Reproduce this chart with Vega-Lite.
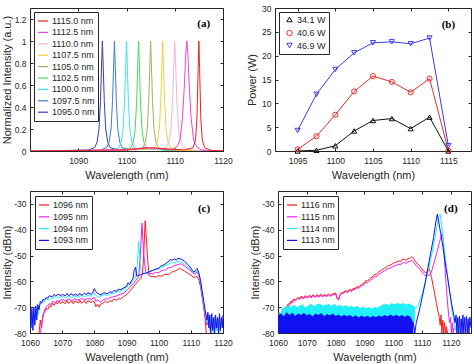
{
"$schema":"https://vega.github.io/schema/vega-lite/v6.json",
"background":"white",
"padding":{"left":0,"top":3,"right":0,"bottom":0},
"config":{
 "font":"Liberation Sans",
 "view":{"stroke":"#262626","strokeWidth":1},
 "axis":{"domain":false,"grid":false,"tickColor":"#262626","tickSize":-3,"labelFontSize":8.5,"labelColor":"#262626","titleFontSize":11,"titleFontWeight":"normal","titleColor":"#262626","labelOverlap":false,"labelFlush":false},
 "axisX":{"labelPadding":8,"titlePadding":3,"minExtent":15,"maxExtent":15},
 "axisY":{"labelPadding":7,"titlePadding":1,"minExtent":17,"maxExtent":17},
 "legend":{"title":null,"padding":3,"strokeColor":"#262626","fillColor":"white","labelFontSize":9,"labelColor":"#262626","labelOffset":3,"labelLimit":200,"cornerRadius":0}
},
"datasets":{
"a":[
{"s":"1095.0 nm","w":1080,"v":0},{"s":"1095.0 nm","w":1092,"v":0.008},{"s":"1095.0 nm","w":1093.4,"v":0.03},{"s":"1095.0 nm","w":1093.9,"v":0.08},{"s":"1095.0 nm","w":1094.3,"v":0.2},{"s":"1095.0 nm","w":1094.6,"v":0.45},{"s":"1095.0 nm","w":1094.85,"v":0.8},{"s":"1095.0 nm","w":1095,"v":1},{"s":"1095.0 nm","w":1095.15,"v":0.8},{"s":"1095.0 nm","w":1095.4,"v":0.45},{"s":"1095.0 nm","w":1095.7,"v":0.2},{"s":"1095.0 nm","w":1096.1,"v":0.08},{"s":"1095.0 nm","w":1096.6,"v":0.03},{"s":"1095.0 nm","w":1098,"v":0.012},{"s":"1095.0 nm","w":1101,"v":0.02},{"s":"1095.0 nm","w":1104,"v":0.025},{"s":"1095.0 nm","w":1107,"v":0.015},{"s":"1095.0 nm","w":1110,"v":0.004},{"s":"1095.0 nm","w":1120,"v":0},
{"s":"1097.5 nm","w":1080,"v":0},{"s":"1097.5 nm","w":1094.5,"v":0.008},{"s":"1097.5 nm","w":1095.9,"v":0.03},{"s":"1097.5 nm","w":1096.4,"v":0.08},{"s":"1097.5 nm","w":1096.8,"v":0.2},{"s":"1097.5 nm","w":1097.1,"v":0.45},{"s":"1097.5 nm","w":1097.35,"v":0.8},{"s":"1097.5 nm","w":1097.5,"v":1},{"s":"1097.5 nm","w":1097.65,"v":0.8},{"s":"1097.5 nm","w":1097.9,"v":0.45},{"s":"1097.5 nm","w":1098.2,"v":0.2},{"s":"1097.5 nm","w":1098.6,"v":0.08},{"s":"1097.5 nm","w":1099.1,"v":0.03},{"s":"1097.5 nm","w":1100.5,"v":0.015},{"s":"1097.5 nm","w":1103,"v":0.02},{"s":"1097.5 nm","w":1106,"v":0.02},{"s":"1097.5 nm","w":1109,"v":0.005},{"s":"1097.5 nm","w":1120,"v":0},
{"s":"1100.0 nm","w":1080,"v":0},{"s":"1100.0 nm","w":1095,"v":0.003},{"s":"1100.0 nm","w":1097,"v":0.008},{"s":"1100.0 nm","w":1098.4,"v":0.03},{"s":"1100.0 nm","w":1098.9,"v":0.08},{"s":"1100.0 nm","w":1099.3,"v":0.2},{"s":"1100.0 nm","w":1099.6,"v":0.45},{"s":"1100.0 nm","w":1099.85,"v":0.8},{"s":"1100.0 nm","w":1100,"v":1},{"s":"1100.0 nm","w":1100.15,"v":0.8},{"s":"1100.0 nm","w":1100.4,"v":0.45},{"s":"1100.0 nm","w":1100.7,"v":0.2},{"s":"1100.0 nm","w":1101.1,"v":0.08},{"s":"1100.0 nm","w":1101.6,"v":0.03},{"s":"1100.0 nm","w":1103,"v":0.015},{"s":"1100.0 nm","w":1106,"v":0.02},{"s":"1100.0 nm","w":1109,"v":0.005},{"s":"1100.0 nm","w":1120,"v":0},
{"s":"1102.5 nm","w":1080,"v":0},{"s":"1102.5 nm","w":1097,"v":0.005},{"s":"1102.5 nm","w":1099.5,"v":0.01},{"s":"1102.5 nm","w":1100.9,"v":0.03},{"s":"1102.5 nm","w":1101.4,"v":0.08},{"s":"1102.5 nm","w":1101.8,"v":0.2},{"s":"1102.5 nm","w":1102.1,"v":0.45},{"s":"1102.5 nm","w":1102.35,"v":0.8},{"s":"1102.5 nm","w":1102.5,"v":1},{"s":"1102.5 nm","w":1102.65,"v":0.8},{"s":"1102.5 nm","w":1102.9,"v":0.45},{"s":"1102.5 nm","w":1103.2,"v":0.2},{"s":"1102.5 nm","w":1103.6,"v":0.08},{"s":"1102.5 nm","w":1104.1,"v":0.03},{"s":"1102.5 nm","w":1105.5,"v":0.015},{"s":"1102.5 nm","w":1108,"v":0.008},{"s":"1102.5 nm","w":1120,"v":0},
{"s":"1105.0 nm","w":1080,"v":0},{"s":"1105.0 nm","w":1098,"v":0.005},{"s":"1105.0 nm","w":1100,"v":0.012},{"s":"1105.0 nm","w":1102,"v":0.01},{"s":"1105.0 nm","w":1103.4,"v":0.03},{"s":"1105.0 nm","w":1103.9,"v":0.08},{"s":"1105.0 nm","w":1104.3,"v":0.2},{"s":"1105.0 nm","w":1104.6,"v":0.45},{"s":"1105.0 nm","w":1104.85,"v":0.8},{"s":"1105.0 nm","w":1105,"v":1},{"s":"1105.0 nm","w":1105.15,"v":0.8},{"s":"1105.0 nm","w":1105.4,"v":0.45},{"s":"1105.0 nm","w":1105.7,"v":0.2},{"s":"1105.0 nm","w":1106.1,"v":0.08},{"s":"1105.0 nm","w":1106.6,"v":0.03},{"s":"1105.0 nm","w":1108,"v":0.012},{"s":"1105.0 nm","w":1111,"v":0.004},{"s":"1105.0 nm","w":1120,"v":0},
{"s":"1107.5 nm","w":1080,"v":0},{"s":"1107.5 nm","w":1098,"v":0.005},{"s":"1107.5 nm","w":1101,"v":0.02},{"s":"1107.5 nm","w":1104.5,"v":0.015},{"s":"1107.5 nm","w":1105.9,"v":0.03},{"s":"1107.5 nm","w":1106.4,"v":0.08},{"s":"1107.5 nm","w":1106.8,"v":0.2},{"s":"1107.5 nm","w":1107.1,"v":0.45},{"s":"1107.5 nm","w":1107.35,"v":0.8},{"s":"1107.5 nm","w":1107.5,"v":1},{"s":"1107.5 nm","w":1107.65,"v":0.8},{"s":"1107.5 nm","w":1107.9,"v":0.45},{"s":"1107.5 nm","w":1108.2,"v":0.2},{"s":"1107.5 nm","w":1108.6,"v":0.08},{"s":"1107.5 nm","w":1109.1,"v":0.03},{"s":"1107.5 nm","w":1110.5,"v":0.01},{"s":"1107.5 nm","w":1113,"v":0.003},{"s":"1107.5 nm","w":1120,"v":0},
{"s":"1110.0 nm","w":1080,"v":0},{"s":"1110.0 nm","w":1099,"v":0.008},{"s":"1110.0 nm","w":1103,"v":0.025},{"s":"1110.0 nm","w":1106.5,"v":0.015},{"s":"1110.0 nm","w":1108.2,"v":0.03},{"s":"1110.0 nm","w":1108.8,"v":0.08},{"s":"1110.0 nm","w":1109.2,"v":0.2},{"s":"1110.0 nm","w":1109.55,"v":0.45},{"s":"1110.0 nm","w":1109.82,"v":0.8},{"s":"1110.0 nm","w":1110,"v":1},{"s":"1110.0 nm","w":1110.18,"v":0.8},{"s":"1110.0 nm","w":1110.45,"v":0.45},{"s":"1110.0 nm","w":1110.8,"v":0.2},{"s":"1110.0 nm","w":1111.2,"v":0.08},{"s":"1110.0 nm","w":1111.8,"v":0.03},{"s":"1110.0 nm","w":1113.5,"v":0.008},{"s":"1110.0 nm","w":1120,"v":0},
{"s":"1112.5 nm","w":1080,"v":0},{"s":"1112.5 nm","w":1100,"v":0.01},{"s":"1112.5 nm","w":1104,"v":0.03},{"s":"1112.5 nm","w":1107,"v":0.02},{"s":"1112.5 nm","w":1109.5,"v":0.012},{"s":"1112.5 nm","w":1110.5,"v":0.04},{"s":"1112.5 nm","w":1111.1,"v":0.1},{"s":"1112.5 nm","w":1111.6,"v":0.3},{"s":"1112.5 nm","w":1112,"v":0.6},{"s":"1112.5 nm","w":1112.3,"v":0.9},{"s":"1112.5 nm","w":1112.5,"v":1},{"s":"1112.5 nm","w":1112.7,"v":0.9},{"s":"1112.5 nm","w":1113,"v":0.6},{"s":"1112.5 nm","w":1113.4,"v":0.3},{"s":"1112.5 nm","w":1113.9,"v":0.1},{"s":"1112.5 nm","w":1114.5,"v":0.04},{"s":"1112.5 nm","w":1115.5,"v":0.01},{"s":"1112.5 nm","w":1120,"v":0},
{"s":"1115.0 nm","w":1080,"v":0},{"s":"1115.0 nm","w":1100,"v":0.01},{"s":"1115.0 nm","w":1105,"v":0.03},{"s":"1115.0 nm","w":1108,"v":0.02},{"s":"1115.0 nm","w":1112,"v":0.01},{"s":"1115.0 nm","w":1113.8,"v":0.03},{"s":"1115.0 nm","w":1114.3,"v":0.1},{"s":"1115.0 nm","w":1114.6,"v":0.3},{"s":"1115.0 nm","w":1114.85,"v":0.75},{"s":"1115.0 nm","w":1115,"v":1},{"s":"1115.0 nm","w":1115.15,"v":0.75},{"s":"1115.0 nm","w":1115.4,"v":0.3},{"s":"1115.0 nm","w":1115.7,"v":0.1},{"s":"1115.0 nm","w":1116.2,"v":0.03},{"s":"1115.0 nm","w":1117.5,"v":0.005},{"s":"1115.0 nm","w":1120,"v":0}
],
"b":[
{"s":"34.1 W","k":"34.1 W","w":1095,"v":0},{"s":"34.1 W","k":"34.1 W","w":1097.5,"v":0.15},{"s":"34.1 W","k":"34.1 W","w":1100,"v":1.1},{"s":"34.1 W","k":"34.1 W","w":1102.5,"v":4.2},{"s":"34.1 W","k":"34.1 W","w":1105,"v":6.4},{"s":"34.1 W","k":"34.1 W","w":1107.5,"v":6.8},{"s":"34.1 W","k":"34.1 W","w":1110,"v":4.7},{"s":"34.1 W","k":"34.1 W","w":1112.5,"v":7.1},{"s":"34.1 W","k":"34.1 W","w":1115,"v":0},
{"s":"40.6 W","k":"40.6 W","w":1095,"v":0.35},{"s":"40.6 W","k":"40.6 W","w":1097.5,"v":3.1},{"s":"40.6 W","k":"40.6 W","w":1100,"v":7.6},{"s":"40.6 W","k":"40.6 W","w":1102.5,"v":12.5},{"s":"40.6 W","k":"40.6 W","w":1105,"v":15.7},{"s":"40.6 W","k":"40.6 W","w":1107.5,"v":14.5},{"s":"40.6 W","k":"40.6 W","w":1110,"v":12.3},{"s":"40.6 W","k":"40.6 W","w":1112.5,"v":15.2},{"s":"40.6 W","k":"40.6 W","w":1115,"v":0.1},
{"s":"46.9 W","k":"46.9 W","w":1095,"v":4.3},{"s":"46.9 W","k":"46.9 W","w":1097.5,"v":11.9},{"s":"46.9 W","k":"46.9 W","w":1100,"v":17.1},{"s":"46.9 W","k":"46.9 W","w":1102.5,"v":20.6},{"s":"46.9 W","k":"46.9 W","w":1105,"v":22.7},{"s":"46.9 W","k":"46.9 W","w":1107.5,"v":22.9},{"s":"46.9 W","k":"46.9 W","w":1110,"v":22.5},{"s":"46.9 W","k":"46.9 W","w":1112.5,"v":23.7},{"s":"46.9 W","k":"46.9 W","w":1115,"v":1.1}
],
"c":[
{"s":"1096 nm","w":1062.8,"v":-80},{"s":"1096 nm","w":1063.2,"v":-75},{"s":"1096 nm","w":1063.6,"v":-78},{"s":"1096 nm","w":1064,"v":-73},{"s":"1096 nm","w":1064.5,"v":-72},{"s":"1096 nm","w":1065,"v":-70.5},{"s":"1096 nm","w":1065.5,"v":-71},{"s":"1096 nm","w":1066,"v":-69.5},{"s":"1096 nm","w":1066.5,"v":-70},{"s":"1096 nm","w":1067,"v":-68.5},{"s":"1096 nm","w":1067.5,"v":-69.3},{"s":"1096 nm","w":1068,"v":-68},{"s":"1096 nm","w":1068.5,"v":-68.8},{"s":"1096 nm","w":1069,"v":-67.6},{"s":"1096 nm","w":1069.5,"v":-68.6},{"s":"1096 nm","w":1070,"v":-67.8},{"s":"1096 nm","w":1071,"v":-68.6},{"s":"1096 nm","w":1071.5,"v":-67.4},{"s":"1096 nm","w":1072,"v":-68.5},{"s":"1096 nm","w":1073,"v":-67.6},{"s":"1096 nm","w":1073.5,"v":-68.7},{"s":"1096 nm","w":1074,"v":-67.5},{"s":"1096 nm","w":1075,"v":-68.4},{"s":"1096 nm","w":1075.5,"v":-67.3},{"s":"1096 nm","w":1076,"v":-68.5},{"s":"1096 nm","w":1077,"v":-67.5},{"s":"1096 nm","w":1077.5,"v":-68.6},{"s":"1096 nm","w":1078,"v":-67.4},{"s":"1096 nm","w":1079,"v":-68.2},{"s":"1096 nm","w":1079.5,"v":-67.6},{"s":"1096 nm","w":1080,"v":-68},{"s":"1096 nm","w":1080.5,"v":-69.8},{"s":"1096 nm","w":1081,"v":-68.8},{"s":"1096 nm","w":1081.5,"v":-70},{"s":"1096 nm","w":1082,"v":-68.8},{"s":"1096 nm","w":1083,"v":-68.2},{"s":"1096 nm","w":1083.5,"v":-67.6},{"s":"1096 nm","w":1084,"v":-68.3},{"s":"1096 nm","w":1085,"v":-67.4},{"s":"1096 nm","w":1085.5,"v":-67.9},{"s":"1096 nm","w":1086,"v":-66.9},{"s":"1096 nm","w":1087,"v":-67.3},{"s":"1096 nm","w":1087.5,"v":-66.5},{"s":"1096 nm","w":1088,"v":-66.9},{"s":"1096 nm","w":1089,"v":-66},{"s":"1096 nm","w":1089.5,"v":-65.6},{"s":"1096 nm","w":1090,"v":-65.2},{"s":"1096 nm","w":1090.5,"v":-64.6},{"s":"1096 nm","w":1091,"v":-63.8},{"s":"1096 nm","w":1091.5,"v":-63},{"s":"1096 nm","w":1092,"v":-62.5},{"s":"1096 nm","w":1092.5,"v":-61.5},{"s":"1096 nm","w":1093,"v":-60.8},{"s":"1096 nm","w":1093.5,"v":-60},{"s":"1096 nm","w":1094,"v":-59.5},{"s":"1096 nm","w":1094.5,"v":-58.8},{"s":"1096 nm","w":1095,"v":-57},{"s":"1096 nm","w":1095.4,"v":-48},{"s":"1096 nm","w":1095.8,"v":-36.5},{"s":"1096 nm","w":1096.2,"v":-44},{"s":"1096 nm","w":1096.6,"v":-52},{"s":"1096 nm","w":1097,"v":-57.5},{"s":"1096 nm","w":1097.5,"v":-58.3},{"s":"1096 nm","w":1098,"v":-58},{"s":"1096 nm","w":1099,"v":-58.4},{"s":"1096 nm","w":1100,"v":-57.8},{"s":"1096 nm","w":1101,"v":-58},{"s":"1096 nm","w":1102,"v":-57.2},{"s":"1096 nm","w":1103,"v":-57.4},{"s":"1096 nm","w":1104,"v":-56.5},{"s":"1096 nm","w":1105,"v":-56},{"s":"1096 nm","w":1106,"v":-55.5},{"s":"1096 nm","w":1106.5,"v":-54.8},{"s":"1096 nm","w":1107,"v":-55.3},{"s":"1096 nm","w":1108,"v":-56},{"s":"1096 nm","w":1109,"v":-56.8},{"s":"1096 nm","w":1110,"v":-57.6},{"s":"1096 nm","w":1111,"v":-58.6},{"s":"1096 nm","w":1111.5,"v":-58},{"s":"1096 nm","w":1112,"v":-58.3},{"s":"1096 nm","w":1112.5,"v":-59.5},{"s":"1096 nm","w":1113,"v":-62},{"s":"1096 nm","w":1113.5,"v":-66},{"s":"1096 nm","w":1114,"v":-70},{"s":"1096 nm","w":1114.4,"v":-74},{"s":"1096 nm","w":1114.8,"v":-80},
{"s":"1095 nm","w":1063.3,"v":-80},{"s":"1095 nm","w":1063.6,"v":-76},{"s":"1095 nm","w":1064,"v":-74},{"s":"1095 nm","w":1064.5,"v":-71},{"s":"1095 nm","w":1065,"v":-70},{"s":"1095 nm","w":1065.5,"v":-69.5},{"s":"1095 nm","w":1066,"v":-68.6},{"s":"1095 nm","w":1066.5,"v":-69},{"s":"1095 nm","w":1067,"v":-67.8},{"s":"1095 nm","w":1068,"v":-68.2},{"s":"1095 nm","w":1068.5,"v":-67.2},{"s":"1095 nm","w":1069,"v":-67.8},{"s":"1095 nm","w":1070,"v":-66.9},{"s":"1095 nm","w":1071,"v":-67.6},{"s":"1095 nm","w":1072,"v":-66.8},{"s":"1095 nm","w":1073,"v":-67.5},{"s":"1095 nm","w":1074,"v":-66.7},{"s":"1095 nm","w":1075,"v":-67.3},{"s":"1095 nm","w":1076,"v":-66.6},{"s":"1095 nm","w":1077,"v":-67.2},{"s":"1095 nm","w":1078,"v":-66.5},{"s":"1095 nm","w":1079,"v":-67},{"s":"1095 nm","w":1080,"v":-66.2},{"s":"1095 nm","w":1080.5,"v":-67.8},{"s":"1095 nm","w":1081,"v":-67.2},{"s":"1095 nm","w":1082,"v":-68},{"s":"1095 nm","w":1083,"v":-67},{"s":"1095 nm","w":1084,"v":-66.8},{"s":"1095 nm","w":1085,"v":-66.2},{"s":"1095 nm","w":1086,"v":-66},{"s":"1095 nm","w":1087,"v":-65.6},{"s":"1095 nm","w":1088,"v":-65},{"s":"1095 nm","w":1089,"v":-64.6},{"s":"1095 nm","w":1090,"v":-63.6},{"s":"1095 nm","w":1091,"v":-62.4},{"s":"1095 nm","w":1092,"v":-61},{"s":"1095 nm","w":1093,"v":-59.5},{"s":"1095 nm","w":1093.8,"v":-58.2},{"s":"1095 nm","w":1094.3,"v":-50},{"s":"1095 nm","w":1094.8,"v":-37.5},{"s":"1095 nm","w":1095.2,"v":-46},{"s":"1095 nm","w":1095.6,"v":-53},{"s":"1095 nm","w":1096,"v":-56.2},{"s":"1095 nm","w":1096.5,"v":-57.2},{"s":"1095 nm","w":1097,"v":-56.8},{"s":"1095 nm","w":1098,"v":-57.2},{"s":"1095 nm","w":1099,"v":-56.5},{"s":"1095 nm","w":1100,"v":-56.6},{"s":"1095 nm","w":1101,"v":-55.8},{"s":"1095 nm","w":1102,"v":-55.6},{"s":"1095 nm","w":1103,"v":-54.8},{"s":"1095 nm","w":1104,"v":-54.5},{"s":"1095 nm","w":1105,"v":-53.8},{"s":"1095 nm","w":1106,"v":-53.5},{"s":"1095 nm","w":1107,"v":-53.2},{"s":"1095 nm","w":1108,"v":-54},{"s":"1095 nm","w":1109,"v":-55},{"s":"1095 nm","w":1110,"v":-56},{"s":"1095 nm","w":1111,"v":-57.3},{"s":"1095 nm","w":1111.5,"v":-56.8},{"s":"1095 nm","w":1112,"v":-56.5},{"s":"1095 nm","w":1112.5,"v":-58},{"s":"1095 nm","w":1113,"v":-61},{"s":"1095 nm","w":1113.5,"v":-65},{"s":"1095 nm","w":1114,"v":-69},{"s":"1095 nm","w":1114.5,"v":-74},{"s":"1095 nm","w":1115,"v":-77},{"s":"1095 nm","w":1115.5,"v":-75},{"s":"1095 nm","w":1116,"v":-79},{"s":"1095 nm","w":1116.5,"v":-76},{"s":"1095 nm","w":1117,"v":-78},{"s":"1095 nm","w":1117.5,"v":-75},{"s":"1095 nm","w":1118,"v":-79},{"s":"1095 nm","w":1118.5,"v":-74.5},{"s":"1095 nm","w":1119,"v":-78},{"s":"1095 nm","w":1119.5,"v":-76},
{"s":"1094 nm","w":1060,"v":-73},{"s":"1094 nm","w":1060.5,"v":-77},{"s":"1094 nm","w":1061,"v":-72},{"s":"1094 nm","w":1061.5,"v":-76},{"s":"1094 nm","w":1062,"v":-70.5},{"s":"1094 nm","w":1062.5,"v":-73},{"s":"1094 nm","w":1063,"v":-69},{"s":"1094 nm","w":1063.5,"v":-68.5},{"s":"1094 nm","w":1064,"v":-67.5},{"s":"1094 nm","w":1064.5,"v":-67.8},{"s":"1094 nm","w":1065,"v":-66.8},{"s":"1094 nm","w":1066,"v":-67},{"s":"1094 nm","w":1066.5,"v":-66.2},{"s":"1094 nm","w":1067,"v":-66.6},{"s":"1094 nm","w":1068,"v":-65.8},{"s":"1094 nm","w":1069,"v":-66.5},{"s":"1094 nm","w":1070,"v":-65.7},{"s":"1094 nm","w":1071,"v":-66.4},{"s":"1094 nm","w":1072,"v":-65.6},{"s":"1094 nm","w":1073,"v":-66.3},{"s":"1094 nm","w":1074,"v":-65.6},{"s":"1094 nm","w":1075,"v":-66.2},{"s":"1094 nm","w":1076,"v":-65.4},{"s":"1094 nm","w":1077,"v":-66},{"s":"1094 nm","w":1078,"v":-65.3},{"s":"1094 nm","w":1079,"v":-65.8},{"s":"1094 nm","w":1080,"v":-64.5},{"s":"1094 nm","w":1080.5,"v":-65.5},{"s":"1094 nm","w":1081,"v":-66},{"s":"1094 nm","w":1082,"v":-65.6},{"s":"1094 nm","w":1083,"v":-65.2},{"s":"1094 nm","w":1084,"v":-65.4},{"s":"1094 nm","w":1085,"v":-64.8},{"s":"1094 nm","w":1086,"v":-64.6},{"s":"1094 nm","w":1087,"v":-64.2},{"s":"1094 nm","w":1088,"v":-63.8},{"s":"1094 nm","w":1089,"v":-63.2},{"s":"1094 nm","w":1090,"v":-62.4},{"s":"1094 nm","w":1091,"v":-61},{"s":"1094 nm","w":1092,"v":-59.8},{"s":"1094 nm","w":1092.8,"v":-58.5},{"s":"1094 nm","w":1093.4,"v":-53},{"s":"1094 nm","w":1093.8,"v":-44.5},{"s":"1094 nm","w":1094.2,"v":-52},{"s":"1094 nm","w":1094.6,"v":-56.5},{"s":"1094 nm","w":1095,"v":-57},{"s":"1094 nm","w":1096,"v":-56.8},{"s":"1094 nm","w":1097,"v":-56.2},{"s":"1094 nm","w":1098,"v":-56},{"s":"1094 nm","w":1099,"v":-55.4},{"s":"1094 nm","w":1100,"v":-55.2},{"s":"1094 nm","w":1101,"v":-54.6},{"s":"1094 nm","w":1102,"v":-54},{"s":"1094 nm","w":1103,"v":-53.4},{"s":"1094 nm","w":1104,"v":-52.6},{"s":"1094 nm","w":1105,"v":-52.8},{"s":"1094 nm","w":1106,"v":-52.2},{"s":"1094 nm","w":1107,"v":-52.5},{"s":"1094 nm","w":1108,"v":-53.2},{"s":"1094 nm","w":1109,"v":-54.3},{"s":"1094 nm","w":1110,"v":-55.5},{"s":"1094 nm","w":1111,"v":-56.8},{"s":"1094 nm","w":1111.5,"v":-56.3},{"s":"1094 nm","w":1112,"v":-56},{"s":"1094 nm","w":1112.5,"v":-57.5},{"s":"1094 nm","w":1113,"v":-60.5},{"s":"1094 nm","w":1113.5,"v":-64.5},{"s":"1094 nm","w":1114,"v":-68.5},{"s":"1094 nm","w":1114.5,"v":-72.5},{"s":"1094 nm","w":1115,"v":-76},{"s":"1094 nm","w":1115.5,"v":-73},{"s":"1094 nm","w":1116,"v":-79},{"s":"1094 nm","w":1116.5,"v":-74},{"s":"1094 nm","w":1117,"v":-80},{"s":"1094 nm","w":1117.5,"v":-73.5},{"s":"1094 nm","w":1118,"v":-79},{"s":"1094 nm","w":1118.5,"v":-75},{"s":"1094 nm","w":1119,"v":-80},{"s":"1094 nm","w":1119.5,"v":-74},{"s":"1094 nm","w":1120,"v":-78},
{"s":"1093 nm","w":1060,"v":-71},{"s":"1093 nm","w":1060.3,"v":-78},{"s":"1093 nm","w":1060.6,"v":-70.5},{"s":"1093 nm","w":1060.9,"v":-79},{"s":"1093 nm","w":1061.2,"v":-70},{"s":"1093 nm","w":1061.5,"v":-77},{"s":"1093 nm","w":1061.8,"v":-69.5},{"s":"1093 nm","w":1062.1,"v":-75},{"s":"1093 nm","w":1062.4,"v":-69},{"s":"1093 nm","w":1062.8,"v":-71},{"s":"1093 nm","w":1063.2,"v":-67.8},{"s":"1093 nm","w":1063.6,"v":-68.5},{"s":"1093 nm","w":1064,"v":-67},{"s":"1093 nm","w":1064.5,"v":-67.2},{"s":"1093 nm","w":1065,"v":-66.3},{"s":"1093 nm","w":1065.5,"v":-66.5},{"s":"1093 nm","w":1066,"v":-65.6},{"s":"1093 nm","w":1067,"v":-65.9},{"s":"1093 nm","w":1067.5,"v":-65},{"s":"1093 nm","w":1068,"v":-65.6},{"s":"1093 nm","w":1069,"v":-64.9},{"s":"1093 nm","w":1069.5,"v":-65.7},{"s":"1093 nm","w":1070,"v":-65},{"s":"1093 nm","w":1071,"v":-65.6},{"s":"1093 nm","w":1071.5,"v":-64.7},{"s":"1093 nm","w":1072,"v":-65.5},{"s":"1093 nm","w":1073,"v":-64.8},{"s":"1093 nm","w":1073.5,"v":-65.6},{"s":"1093 nm","w":1074,"v":-64.9},{"s":"1093 nm","w":1075,"v":-65.5},{"s":"1093 nm","w":1075.5,"v":-64.6},{"s":"1093 nm","w":1076,"v":-65.4},{"s":"1093 nm","w":1077,"v":-64.6},{"s":"1093 nm","w":1077.5,"v":-65.2},{"s":"1093 nm","w":1078,"v":-64.4},{"s":"1093 nm","w":1079,"v":-65},{"s":"1093 nm","w":1079.5,"v":-64.5},{"s":"1093 nm","w":1080,"v":-62.8},{"s":"1093 nm","w":1080.5,"v":-64},{"s":"1093 nm","w":1081,"v":-64.6},{"s":"1093 nm","w":1082,"v":-65.2},{"s":"1093 nm","w":1083,"v":-64.4},{"s":"1093 nm","w":1084,"v":-64.8},{"s":"1093 nm","w":1085,"v":-64},{"s":"1093 nm","w":1085.5,"v":-64.4},{"s":"1093 nm","w":1086,"v":-63.6},{"s":"1093 nm","w":1087,"v":-63.8},{"s":"1093 nm","w":1087.5,"v":-63},{"s":"1093 nm","w":1088,"v":-63.3},{"s":"1093 nm","w":1089,"v":-62.6},{"s":"1093 nm","w":1090,"v":-62},{"s":"1093 nm","w":1090.5,"v":-60.5},{"s":"1093 nm","w":1091,"v":-61.2},{"s":"1093 nm","w":1091.5,"v":-59.8},{"s":"1093 nm","w":1092,"v":-59},{"s":"1093 nm","w":1092.4,"v":-55.5},{"s":"1093 nm","w":1092.8,"v":-54.5},{"s":"1093 nm","w":1093.2,"v":-58},{"s":"1093 nm","w":1093.8,"v":-57.6},{"s":"1093 nm","w":1094.5,"v":-57.4},{"s":"1093 nm","w":1095,"v":-57},{"s":"1093 nm","w":1096,"v":-56.8},{"s":"1093 nm","w":1097,"v":-56.3},{"s":"1093 nm","w":1098,"v":-55.8},{"s":"1093 nm","w":1099,"v":-55.3},{"s":"1093 nm","w":1100,"v":-54.9},{"s":"1093 nm","w":1100.5,"v":-54.2},{"s":"1093 nm","w":1101,"v":-54},{"s":"1093 nm","w":1102,"v":-53.3},{"s":"1093 nm","w":1103,"v":-52.4},{"s":"1093 nm","w":1103.5,"v":-51.6},{"s":"1093 nm","w":1104,"v":-51.8},{"s":"1093 nm","w":1105,"v":-51.3},{"s":"1093 nm","w":1105.5,"v":-51.8},{"s":"1093 nm","w":1106,"v":-51},{"s":"1093 nm","w":1107,"v":-51.4},{"s":"1093 nm","w":1108,"v":-52.1},{"s":"1093 nm","w":1109,"v":-53.4},{"s":"1093 nm","w":1110,"v":-54.8},{"s":"1093 nm","w":1110.5,"v":-55.8},{"s":"1093 nm","w":1111,"v":-56.4},{"s":"1093 nm","w":1111.5,"v":-55.6},{"s":"1093 nm","w":1112,"v":-55},{"s":"1093 nm","w":1112.5,"v":-56.8},{"s":"1093 nm","w":1113,"v":-59.5},{"s":"1093 nm","w":1113.5,"v":-63.5},{"s":"1093 nm","w":1114,"v":-67.5},{"s":"1093 nm","w":1114.5,"v":-71.5},{"s":"1093 nm","w":1115,"v":-75},{"s":"1093 nm","w":1115.3,"v":-72},{"s":"1093 nm","w":1115.6,"v":-78},{"s":"1093 nm","w":1115.9,"v":-73},{"s":"1093 nm","w":1116.2,"v":-80},{"s":"1093 nm","w":1116.5,"v":-72.5},{"s":"1093 nm","w":1116.8,"v":-79},{"s":"1093 nm","w":1117.1,"v":-74},{"s":"1093 nm","w":1117.4,"v":-80},{"s":"1093 nm","w":1117.7,"v":-73},{"s":"1093 nm","w":1118,"v":-78},{"s":"1093 nm","w":1118.3,"v":-74},{"s":"1093 nm","w":1118.6,"v":-80},{"s":"1093 nm","w":1118.9,"v":-72.5},{"s":"1093 nm","w":1119.2,"v":-79},{"s":"1093 nm","w":1119.5,"v":-74},{"s":"1093 nm","w":1119.8,"v":-78},{"s":"1093 nm","w":1120,"v":-73}
],
"d":[
{"s":"1116 nm","w":1060,"v":-74},{"s":"1116 nm","w":1060.5,"v":-72.5},{"s":"1116 nm","w":1061,"v":-73.2},{"s":"1116 nm","w":1061.5,"v":-71.3},{"s":"1116 nm","w":1062,"v":-71.8},{"s":"1116 nm","w":1062.5,"v":-70.2},{"s":"1116 nm","w":1063,"v":-69.8},{"s":"1116 nm","w":1063.5,"v":-68.8},{"s":"1116 nm","w":1064,"v":-68.6},{"s":"1116 nm","w":1064.5,"v":-67.6},{"s":"1116 nm","w":1065,"v":-67.8},{"s":"1116 nm","w":1065.5,"v":-66.8},{"s":"1116 nm","w":1066,"v":-67.2},{"s":"1116 nm","w":1067,"v":-66.2},{"s":"1116 nm","w":1067.5,"v":-66.8},{"s":"1116 nm","w":1068,"v":-65.8},{"s":"1116 nm","w":1069,"v":-66.4},{"s":"1116 nm","w":1069.5,"v":-65.5},{"s":"1116 nm","w":1070,"v":-66.2},{"s":"1116 nm","w":1071,"v":-65.4},{"s":"1116 nm","w":1071.5,"v":-66.1},{"s":"1116 nm","w":1072,"v":-65.2},{"s":"1116 nm","w":1073,"v":-65.9},{"s":"1116 nm","w":1073.5,"v":-65.1},{"s":"1116 nm","w":1074,"v":-65.8},{"s":"1116 nm","w":1075,"v":-65},{"s":"1116 nm","w":1075.5,"v":-65.8},{"s":"1116 nm","w":1076,"v":-65.1},{"s":"1116 nm","w":1077,"v":-65.6},{"s":"1116 nm","w":1077.5,"v":-64.8},{"s":"1116 nm","w":1078,"v":-65.5},{"s":"1116 nm","w":1079,"v":-64.9},{"s":"1116 nm","w":1080,"v":-64.5},{"s":"1116 nm","w":1080.5,"v":-66.3},{"s":"1116 nm","w":1081,"v":-67},{"s":"1116 nm","w":1081.5,"v":-65.2},{"s":"1116 nm","w":1082,"v":-64.4},{"s":"1116 nm","w":1083,"v":-64.1},{"s":"1116 nm","w":1083.5,"v":-63.4},{"s":"1116 nm","w":1084,"v":-64},{"s":"1116 nm","w":1085,"v":-63.1},{"s":"1116 nm","w":1085.5,"v":-63.6},{"s":"1116 nm","w":1086,"v":-62.8},{"s":"1116 nm","w":1087,"v":-62.6},{"s":"1116 nm","w":1087.5,"v":-61.9},{"s":"1116 nm","w":1088,"v":-62.2},{"s":"1116 nm","w":1089,"v":-61.2},{"s":"1116 nm","w":1090,"v":-60.6},{"s":"1116 nm","w":1090.5,"v":-59.6},{"s":"1116 nm","w":1091,"v":-59.9},{"s":"1116 nm","w":1092,"v":-58.8},{"s":"1116 nm","w":1093,"v":-58.1},{"s":"1116 nm","w":1093.5,"v":-57.2},{"s":"1116 nm","w":1094,"v":-57.4},{"s":"1116 nm","w":1095,"v":-56.3},{"s":"1116 nm","w":1096,"v":-55.6},{"s":"1116 nm","w":1097,"v":-54.9},{"s":"1116 nm","w":1098,"v":-54.1},{"s":"1116 nm","w":1099,"v":-53.7},{"s":"1116 nm","w":1100,"v":-53},{"s":"1116 nm","w":1101,"v":-52.6},{"s":"1116 nm","w":1102,"v":-52},{"s":"1116 nm","w":1102.5,"v":-52.4},{"s":"1116 nm","w":1103,"v":-51.6},{"s":"1116 nm","w":1104,"v":-51.4},{"s":"1116 nm","w":1104.5,"v":-51.9},{"s":"1116 nm","w":1105,"v":-51.2},{"s":"1116 nm","w":1106,"v":-50.9},{"s":"1116 nm","w":1106.5,"v":-50.4},{"s":"1116 nm","w":1107,"v":-51},{"s":"1116 nm","w":1107.5,"v":-52},{"s":"1116 nm","w":1108,"v":-52.7},{"s":"1116 nm","w":1109,"v":-53.8},{"s":"1116 nm","w":1110,"v":-55.2},{"s":"1116 nm","w":1110.5,"v":-56},{"s":"1116 nm","w":1111,"v":-56.4},{"s":"1116 nm","w":1111.5,"v":-56.8},{"s":"1116 nm","w":1112,"v":-55.8},{"s":"1116 nm","w":1112.4,"v":-55},{"s":"1116 nm","w":1112.8,"v":-56.2},{"s":"1116 nm","w":1113.3,"v":-58.5},{"s":"1116 nm","w":1114,"v":-62.5},{"s":"1116 nm","w":1114.5,"v":-65.5},{"s":"1116 nm","w":1115,"v":-68.5},{"s":"1116 nm","w":1115.5,"v":-71.5},{"s":"1116 nm","w":1116,"v":-74},{"s":"1116 nm","w":1116.3,"v":-77},{"s":"1116 nm","w":1116.6,"v":-73},{"s":"1116 nm","w":1116.9,"v":-80},{"s":"1116 nm","w":1117.2,"v":-75},{"s":"1116 nm","w":1117.5,"v":-80},{"s":"1116 nm","w":1117.8,"v":-76},{"s":"1116 nm","w":1118.1,"v":-80},{"s":"1116 nm","w":1118.4,"v":-77.5},{"s":"1116 nm","w":1118.7,"v":-80},{"s":"1116 nm","w":1119,"v":-79},
{"s":"1115 nm","w":1060,"v":-75.5},{"s":"1115 nm","w":1060.5,"v":-73.5},{"s":"1115 nm","w":1061,"v":-74.5},{"s":"1115 nm","w":1061.5,"v":-72.3},{"s":"1115 nm","w":1062,"v":-72.6},{"s":"1115 nm","w":1062.5,"v":-71},{"s":"1115 nm","w":1063,"v":-70.6},{"s":"1115 nm","w":1063.5,"v":-69.4},{"s":"1115 nm","w":1064,"v":-69.2},{"s":"1115 nm","w":1064.5,"v":-68.2},{"s":"1115 nm","w":1065,"v":-68.3},{"s":"1115 nm","w":1065.5,"v":-67.3},{"s":"1115 nm","w":1066,"v":-67.6},{"s":"1115 nm","w":1067,"v":-66.6},{"s":"1115 nm","w":1067.5,"v":-67.1},{"s":"1115 nm","w":1068,"v":-66.2},{"s":"1115 nm","w":1069,"v":-66.7},{"s":"1115 nm","w":1069.5,"v":-65.9},{"s":"1115 nm","w":1070,"v":-66.5},{"s":"1115 nm","w":1071,"v":-65.8},{"s":"1115 nm","w":1071.5,"v":-66.4},{"s":"1115 nm","w":1072,"v":-65.6},{"s":"1115 nm","w":1073,"v":-66.2},{"s":"1115 nm","w":1073.5,"v":-65.5},{"s":"1115 nm","w":1074,"v":-66.1},{"s":"1115 nm","w":1075,"v":-65.4},{"s":"1115 nm","w":1075.5,"v":-66.1},{"s":"1115 nm","w":1076,"v":-65.5},{"s":"1115 nm","w":1077,"v":-65.9},{"s":"1115 nm","w":1077.5,"v":-65.2},{"s":"1115 nm","w":1078,"v":-65.8},{"s":"1115 nm","w":1079,"v":-65.3},{"s":"1115 nm","w":1080,"v":-64.9},{"s":"1115 nm","w":1080.5,"v":-66.6},{"s":"1115 nm","w":1081,"v":-67.3},{"s":"1115 nm","w":1081.5,"v":-65.6},{"s":"1115 nm","w":1082,"v":-64.8},{"s":"1115 nm","w":1083,"v":-64.5},{"s":"1115 nm","w":1083.5,"v":-63.8},{"s":"1115 nm","w":1084,"v":-64.4},{"s":"1115 nm","w":1085,"v":-63.5},{"s":"1115 nm","w":1085.5,"v":-64},{"s":"1115 nm","w":1086,"v":-63.2},{"s":"1115 nm","w":1087,"v":-63},{"s":"1115 nm","w":1087.5,"v":-62.4},{"s":"1115 nm","w":1088,"v":-62.7},{"s":"1115 nm","w":1089,"v":-61.8},{"s":"1115 nm","w":1090,"v":-61.2},{"s":"1115 nm","w":1090.5,"v":-60.3},{"s":"1115 nm","w":1091,"v":-60.6},{"s":"1115 nm","w":1092,"v":-59.6},{"s":"1115 nm","w":1093,"v":-58.9},{"s":"1115 nm","w":1093.5,"v":-58.1},{"s":"1115 nm","w":1094,"v":-58.3},{"s":"1115 nm","w":1095,"v":-57.3},{"s":"1115 nm","w":1096,"v":-56.6},{"s":"1115 nm","w":1097,"v":-55.9},{"s":"1115 nm","w":1098,"v":-55.2},{"s":"1115 nm","w":1099,"v":-54.8},{"s":"1115 nm","w":1100,"v":-54.2},{"s":"1115 nm","w":1101,"v":-53.8},{"s":"1115 nm","w":1102,"v":-53.3},{"s":"1115 nm","w":1102.5,"v":-53.6},{"s":"1115 nm","w":1103,"v":-52.9},{"s":"1115 nm","w":1104,"v":-52.7},{"s":"1115 nm","w":1104.5,"v":-53.1},{"s":"1115 nm","w":1105,"v":-52.5},{"s":"1115 nm","w":1106,"v":-52.2},{"s":"1115 nm","w":1106.5,"v":-51.8},{"s":"1115 nm","w":1107,"v":-52.4},{"s":"1115 nm","w":1107.5,"v":-53.2},{"s":"1115 nm","w":1108,"v":-54},{"s":"1115 nm","w":1109,"v":-55},{"s":"1115 nm","w":1110,"v":-56.4},{"s":"1115 nm","w":1110.5,"v":-57.2},{"s":"1115 nm","w":1111,"v":-57.6},{"s":"1115 nm","w":1111.5,"v":-57.9},{"s":"1115 nm","w":1112,"v":-57.5},{"s":"1115 nm","w":1112.5,"v":-57.8},{"s":"1115 nm","w":1113,"v":-57},{"s":"1115 nm","w":1113.5,"v":-55.5},{"s":"1115 nm","w":1114,"v":-53.5},{"s":"1115 nm","w":1114.5,"v":-51.5},{"s":"1115 nm","w":1115,"v":-49.5},{"s":"1115 nm","w":1115.5,"v":-47.5},{"s":"1115 nm","w":1116,"v":-45},{"s":"1115 nm","w":1116.5,"v":-43},{"s":"1115 nm","w":1117,"v":-41.5},{"s":"1115 nm","w":1117.3,"v":-43},{"s":"1115 nm","w":1117.7,"v":-50},{"s":"1115 nm","w":1118.1,"v":-57},{"s":"1115 nm","w":1118.5,"v":-63},{"s":"1115 nm","w":1118.9,"v":-69},{"s":"1115 nm","w":1119.3,"v":-73.5},{"s":"1115 nm","w":1119.6,"v":-76},{"s":"1115 nm","w":1119.9,"v":-74},{"s":"1115 nm","w":1120.2,"v":-80},{"s":"1115 nm","w":1120.5,"v":-76},{"s":"1115 nm","w":1120.8,"v":-80},{"s":"1115 nm","w":1121.1,"v":-78},
{"s":"1114 nm","w":1060,"v":-76},{"s":"1114 nm","w":1060.5,"v":-72},{"s":"1114 nm","w":1061,"v":-74.5},{"s":"1114 nm","w":1061.5,"v":-70.5},{"s":"1114 nm","w":1062,"v":-73.5},{"s":"1114 nm","w":1062.5,"v":-70},{"s":"1114 nm","w":1063,"v":-74},{"s":"1114 nm","w":1063.5,"v":-69.5},{"s":"1114 nm","w":1064,"v":-73.5},{"s":"1114 nm","w":1064.5,"v":-69.8},{"s":"1114 nm","w":1065,"v":-74},{"s":"1114 nm","w":1065.5,"v":-69.2},{"s":"1114 nm","w":1066,"v":-73.6},{"s":"1114 nm","w":1066.5,"v":-70},{"s":"1114 nm","w":1067,"v":-73.8},{"s":"1114 nm","w":1067.5,"v":-69.4},{"s":"1114 nm","w":1068,"v":-74},{"s":"1114 nm","w":1068.5,"v":-69},{"s":"1114 nm","w":1069,"v":-73.5},{"s":"1114 nm","w":1069.5,"v":-70.2},{"s":"1114 nm","w":1070,"v":-74},{"s":"1114 nm","w":1070.5,"v":-69.3},{"s":"1114 nm","w":1071,"v":-73.7},{"s":"1114 nm","w":1071.5,"v":-68.8},{"s":"1114 nm","w":1072,"v":-73.5},{"s":"1114 nm","w":1072.5,"v":-69.6},{"s":"1114 nm","w":1073,"v":-74},{"s":"1114 nm","w":1073.5,"v":-69},{"s":"1114 nm","w":1074,"v":-73.6},{"s":"1114 nm","w":1074.5,"v":-68.7},{"s":"1114 nm","w":1075,"v":-73.8},{"s":"1114 nm","w":1075.5,"v":-69.4},{"s":"1114 nm","w":1076,"v":-74},{"s":"1114 nm","w":1076.5,"v":-69.1},{"s":"1114 nm","w":1077,"v":-73.5},{"s":"1114 nm","w":1077.5,"v":-68.9},{"s":"1114 nm","w":1078,"v":-73.9},{"s":"1114 nm","w":1078.5,"v":-69.5},{"s":"1114 nm","w":1079,"v":-74},{"s":"1114 nm","w":1079.5,"v":-68.8},{"s":"1114 nm","w":1080,"v":-73.6},{"s":"1114 nm","w":1080.5,"v":-69.6},{"s":"1114 nm","w":1081,"v":-74},{"s":"1114 nm","w":1081.5,"v":-69.2},{"s":"1114 nm","w":1082,"v":-73.8},{"s":"1114 nm","w":1082.5,"v":-69.8},{"s":"1114 nm","w":1083,"v":-74},{"s":"1114 nm","w":1083.5,"v":-69.3},{"s":"1114 nm","w":1084,"v":-73.5},{"s":"1114 nm","w":1084.5,"v":-69.9},{"s":"1114 nm","w":1085,"v":-74},{"s":"1114 nm","w":1085.5,"v":-69.5},{"s":"1114 nm","w":1086,"v":-73.7},{"s":"1114 nm","w":1086.5,"v":-70.1},{"s":"1114 nm","w":1087,"v":-74},{"s":"1114 nm","w":1087.5,"v":-69.6},{"s":"1114 nm","w":1088,"v":-73.8},{"s":"1114 nm","w":1088.5,"v":-70.3},{"s":"1114 nm","w":1089,"v":-74},{"s":"1114 nm","w":1089.5,"v":-69.8},{"s":"1114 nm","w":1090,"v":-73.6},{"s":"1114 nm","w":1090.5,"v":-70.4},{"s":"1114 nm","w":1091,"v":-74},{"s":"1114 nm","w":1091.5,"v":-70},{"s":"1114 nm","w":1092,"v":-73.8},{"s":"1114 nm","w":1092.5,"v":-70.5},{"s":"1114 nm","w":1093,"v":-74},{"s":"1114 nm","w":1093.5,"v":-69.9},{"s":"1114 nm","w":1094,"v":-73.7},{"s":"1114 nm","w":1094.5,"v":-70.2},{"s":"1114 nm","w":1095,"v":-74},{"s":"1114 nm","w":1095.5,"v":-69.5},{"s":"1114 nm","w":1096,"v":-73.5},{"s":"1114 nm","w":1096.5,"v":-69},{"s":"1114 nm","w":1097,"v":-73.8},{"s":"1114 nm","w":1097.5,"v":-68.8},{"s":"1114 nm","w":1098,"v":-73.4},{"s":"1114 nm","w":1098.5,"v":-69.2},{"s":"1114 nm","w":1099,"v":-73.9},{"s":"1114 nm","w":1099.5,"v":-68.6},{"s":"1114 nm","w":1100,"v":-73.5},{"s":"1114 nm","w":1100.5,"v":-68.9},{"s":"1114 nm","w":1101,"v":-73.6},{"s":"1114 nm","w":1101.5,"v":-68.4},{"s":"1114 nm","w":1102,"v":-73.2},{"s":"1114 nm","w":1102.5,"v":-68.8},{"s":"1114 nm","w":1103,"v":-73.5},{"s":"1114 nm","w":1103.5,"v":-68.5},{"s":"1114 nm","w":1104,"v":-73.3},{"s":"1114 nm","w":1104.5,"v":-69},{"s":"1114 nm","w":1105,"v":-73.6},{"s":"1114 nm","w":1105.5,"v":-68.7},{"s":"1114 nm","w":1106,"v":-73.2},{"s":"1114 nm","w":1106.5,"v":-69.2},{"s":"1114 nm","w":1107,"v":-72.8},{"s":"1114 nm","w":1107.5,"v":-70},{"s":"1114 nm","w":1108,"v":-70.5},{"s":"1114 nm","w":1109,"v":-68.2},{"s":"1114 nm","w":1110,"v":-65},{"s":"1114 nm","w":1111,"v":-61},{"s":"1114 nm","w":1112,"v":-56.5},{"s":"1114 nm","w":1113,"v":-51.5},{"s":"1114 nm","w":1114,"v":-46},{"s":"1114 nm","w":1115,"v":-40},{"s":"1114 nm","w":1115.8,"v":-35},{"s":"1114 nm","w":1116.3,"v":-34},{"s":"1114 nm","w":1116.8,"v":-38},{"s":"1114 nm","w":1117.5,"v":-45},{"s":"1114 nm","w":1118.2,"v":-52},{"s":"1114 nm","w":1119,"v":-59},{"s":"1114 nm","w":1119.8,"v":-66},{"s":"1114 nm","w":1120.5,"v":-72},{"s":"1114 nm","w":1121,"v":-75},{"s":"1114 nm","w":1121.5,"v":-79},{"s":"1114 nm","w":1122,"v":-77},{"s":"1114 nm","w":1122.5,"v":-80},
{"s":"1113 nm","w":1060,"v":-73},{"s":"1113 nm","w":1060.5,"v":-80},{"s":"1113 nm","w":1061,"v":-72.5},{"s":"1113 nm","w":1061.5,"v":-80},{"s":"1113 nm","w":1062,"v":-73.5},{"s":"1113 nm","w":1062.5,"v":-79},{"s":"1113 nm","w":1063,"v":-72},{"s":"1113 nm","w":1063.5,"v":-80},{"s":"1113 nm","w":1064,"v":-73},{"s":"1113 nm","w":1064.5,"v":-80},{"s":"1113 nm","w":1065,"v":-72.2},{"s":"1113 nm","w":1065.5,"v":-79.5},{"s":"1113 nm","w":1066,"v":-73.4},{"s":"1113 nm","w":1066.5,"v":-80},{"s":"1113 nm","w":1067,"v":-72.4},{"s":"1113 nm","w":1067.5,"v":-80},{"s":"1113 nm","w":1068,"v":-73},{"s":"1113 nm","w":1068.5,"v":-77.5},{"s":"1113 nm","w":1069,"v":-72.2},{"s":"1113 nm","w":1069.5,"v":-80},{"s":"1113 nm","w":1070,"v":-73.2},{"s":"1113 nm","w":1070.5,"v":-78},{"s":"1113 nm","w":1071,"v":-72.5},{"s":"1113 nm","w":1071.5,"v":-80},{"s":"1113 nm","w":1072,"v":-73.6},{"s":"1113 nm","w":1072.5,"v":-80},{"s":"1113 nm","w":1073,"v":-72.4},{"s":"1113 nm","w":1073.5,"v":-77.8},{"s":"1113 nm","w":1074,"v":-73},{"s":"1113 nm","w":1074.5,"v":-80},{"s":"1113 nm","w":1075,"v":-72.3},{"s":"1113 nm","w":1075.5,"v":-80},{"s":"1113 nm","w":1076,"v":-73.5},{"s":"1113 nm","w":1076.5,"v":-78.2},{"s":"1113 nm","w":1077,"v":-72.6},{"s":"1113 nm","w":1077.5,"v":-80},{"s":"1113 nm","w":1078,"v":-73.2},{"s":"1113 nm","w":1078.5,"v":-80},{"s":"1113 nm","w":1079,"v":-72.4},{"s":"1113 nm","w":1079.5,"v":-80},{"s":"1113 nm","w":1080,"v":-73.4},{"s":"1113 nm","w":1080.5,"v":-80},{"s":"1113 nm","w":1081,"v":-72.8},{"s":"1113 nm","w":1081.5,"v":-79.5},{"s":"1113 nm","w":1082,"v":-73.6},{"s":"1113 nm","w":1082.5,"v":-80},{"s":"1113 nm","w":1083,"v":-72.9},{"s":"1113 nm","w":1083.5,"v":-80},{"s":"1113 nm","w":1084,"v":-73.5},{"s":"1113 nm","w":1084.5,"v":-80},{"s":"1113 nm","w":1085,"v":-73},{"s":"1113 nm","w":1085.5,"v":-79.7},{"s":"1113 nm","w":1086,"v":-73.8},{"s":"1113 nm","w":1086.5,"v":-80},{"s":"1113 nm","w":1087,"v":-73.1},{"s":"1113 nm","w":1087.5,"v":-80},{"s":"1113 nm","w":1088,"v":-74},{"s":"1113 nm","w":1088.5,"v":-80},{"s":"1113 nm","w":1089,"v":-73.2},{"s":"1113 nm","w":1089.5,"v":-80},{"s":"1113 nm","w":1090,"v":-73.8},{"s":"1113 nm","w":1090.5,"v":-80},{"s":"1113 nm","w":1091,"v":-73.3},{"s":"1113 nm","w":1091.5,"v":-79.6},{"s":"1113 nm","w":1092,"v":-74},{"s":"1113 nm","w":1092.5,"v":-80},{"s":"1113 nm","w":1093,"v":-73.3},{"s":"1113 nm","w":1093.5,"v":-80},{"s":"1113 nm","w":1094,"v":-73.9},{"s":"1113 nm","w":1094.5,"v":-80},{"s":"1113 nm","w":1095,"v":-73.2},{"s":"1113 nm","w":1095.5,"v":-80},{"s":"1113 nm","w":1096,"v":-73.7},{"s":"1113 nm","w":1096.5,"v":-79.8},{"s":"1113 nm","w":1097,"v":-73},{"s":"1113 nm","w":1097.5,"v":-80},{"s":"1113 nm","w":1098,"v":-73.6},{"s":"1113 nm","w":1098.5,"v":-80},{"s":"1113 nm","w":1099,"v":-72.8},{"s":"1113 nm","w":1099.5,"v":-80},{"s":"1113 nm","w":1100,"v":-73.5},{"s":"1113 nm","w":1100.5,"v":-80},{"s":"1113 nm","w":1101,"v":-72.9},{"s":"1113 nm","w":1101.5,"v":-79.7},{"s":"1113 nm","w":1102,"v":-73.6},{"s":"1113 nm","w":1102.5,"v":-80},{"s":"1113 nm","w":1103,"v":-73},{"s":"1113 nm","w":1103.5,"v":-80},{"s":"1113 nm","w":1104,"v":-73.7},{"s":"1113 nm","w":1104.5,"v":-80},{"s":"1113 nm","w":1105,"v":-73.1},{"s":"1113 nm","w":1105.5,"v":-80},{"s":"1113 nm","w":1106,"v":-73.8},{"s":"1113 nm","w":1106.5,"v":-80},{"s":"1113 nm","w":1107,"v":-76},{"s":"1113 nm","w":1107.5,"v":-80},{"s":"1113 nm","w":1108,"v":-76},{"s":"1113 nm","w":1109,"v":-71.5},{"s":"1113 nm","w":1110,"v":-66.5},{"s":"1113 nm","w":1111,"v":-61},{"s":"1113 nm","w":1112,"v":-55},{"s":"1113 nm","w":1113,"v":-49},{"s":"1113 nm","w":1114,"v":-43},{"s":"1113 nm","w":1114.8,"v":-37},{"s":"1113 nm","w":1115.3,"v":-34},{"s":"1113 nm","w":1115.8,"v":-37},{"s":"1113 nm","w":1116.5,"v":-41.5},{"s":"1113 nm","w":1117.3,"v":-47},{"s":"1113 nm","w":1118,"v":-52.5},{"s":"1113 nm","w":1118.8,"v":-58},{"s":"1113 nm","w":1119.6,"v":-64},{"s":"1113 nm","w":1120.4,"v":-69.5},{"s":"1113 nm","w":1121,"v":-73},{"s":"1113 nm","w":1121.5,"v":-76},{"s":"1113 nm","w":1121.8,"v":-73},{"s":"1113 nm","w":1122.1,"v":-80},{"s":"1113 nm","w":1122.4,"v":-74},{"s":"1113 nm","w":1122.7,"v":-80},{"s":"1113 nm","w":1123,"v":-73.5},{"s":"1113 nm","w":1123.3,"v":-80},{"s":"1113 nm","w":1123.6,"v":-74.5},{"s":"1113 nm","w":1123.9,"v":-80},{"s":"1113 nm","w":1124.2,"v":-73},{"s":"1113 nm","w":1124.5,"v":-80},{"s":"1113 nm","w":1124.8,"v":-74},{"s":"1113 nm","w":1125.1,"v":-80},{"s":"1113 nm","w":1125.4,"v":-73.5},{"s":"1113 nm","w":1125.7,"v":-80},{"s":"1113 nm","w":1126,"v":-74.5},{"s":"1113 nm","w":1126.3,"v":-80},{"s":"1113 nm","w":1126.6,"v":-73.8},{"s":"1113 nm","w":1127,"v":-78}
]
},
"resolve":{"scale":{"color":"independent","shape":"independent","stroke":"independent"},"legend":{"color":"independent","shape":"independent"}},
"spacing":9,
"vconcat":[
{"spacing":12,
 "resolve":{"scale":{"color":"independent","shape":"independent","stroke":"independent"},"legend":{"color":"independent","shape":"independent"}},
 "hconcat":[
 {"width":193,"height":143,
  "resolve":{"axis":{"x":"independent","y":"independent"}},
  "layer":[
   {"data":{"name":"a"},"mark":{"type":"line","strokeWidth":1,"clip":true},
    "encoding":{
     "x":{"field":"w","type":"quantitative","scale":{"domain":[1080,1120],"nice":false,"zero":false},"axis":{"values":[1090,1100,1110,1120],"format":"d","title":"Wavelength (nm)"}},
     "y":{"field":"v","type":"quantitative","scale":{"domain":[0,1.3],"nice":false,"zero":false},"axis":{"values":[0,0.2,0.4,0.6,0.8,1,1.2],"labelExpr":"''+datum.value","title":"Normalized Intensity (a.u.)"}},
     "color":{"field":"s","type":"nominal","scale":{"domain":["1115.0 nm","1112.5 nm","1110.0 nm","1107.5 nm","1105.0 nm","1102.5 nm","1100.0 nm","1097.5 nm","1095.0 nm"],"range":["#ee2222","#ee44dd","#f5b5d5","#f2d03a","#a5b060","#44dd55","#44e0ee","#3d7fc8","#3a3ac0"]},
      "legend":{"orient":"top-left","offset":4,"symbolType":"stroke","symbolSize":100,"symbolStrokeWidth":1.2,"rowPadding":0.4}}
    }},
   {"data":{"values":[{"t":"(a)","x":1116,"y":1.155}]},"mark":{"type":"text","font":"Liberation Serif","fontWeight":"bold","fontSize":11,"color":"black"},
    "encoding":{
     "x":{"field":"x","type":"quantitative","axis":{"orient":"top","labels":false,"title":null,"values":[1090,1100,1110,1120],"minExtent":0,"maxExtent":0}},
     "y":{"field":"y","type":"quantitative","axis":{"orient":"right","labels":false,"title":null,"values":[0,0.2,0.4,0.6,0.8,1,1.2],"minExtent":0,"maxExtent":0}},
     "text":{"field":"t"}}}
  ]},
 {"width":196,"height":143,
  "resolve":{"axis":{"x":"independent","y":"independent"}},
  "layer":[
   {"data":{"name":"b"},"mark":{"type":"line","strokeWidth":1},
    "encoding":{
     "x":{"field":"w","type":"quantitative","scale":{"domain":[1092,1118],"nice":false,"zero":false},"axis":{"values":[1095,1100,1105,1110,1115],"format":"d","title":"Wavelength (nm)"}},
     "y":{"field":"v","type":"quantitative","scale":{"domain":[0,30],"nice":false,"zero":false},"axis":{"values":[0,5,10,15,20,25,30],"title":"Power (W)"}},
     "color":{"field":"k","type":"nominal","scale":{"domain":["34.1 W","40.6 W","46.9 W"],"range":["#111111","#ee2b2b","#3a3ae6"]},
      "legend":{"orient":"top-left","offset":4,"symbolSize":28,"symbolStrokeWidth":1,"rowPadding":2.5,"symbolOffset":3}}
    }},
   {"data":{"name":"b"},"mark":{"type":"point","filled":false,"size":26,"strokeWidth":1,"opacity":1},
    "encoding":{
     "x":{"field":"w","type":"quantitative","axis":null},
     "y":{"field":"v","type":"quantitative","axis":null},
     "stroke":{"field":"s","type":"nominal","scale":{"domain":["34.1 W","40.6 W","46.9 W"],"range":["#111111","#ee2b2b","#3a3ae6"]},"legend":null},
     "shape":{"field":"s","type":"nominal","scale":{"domain":["34.1 W","40.6 W","46.9 W"],"range":["triangle-up","circle","triangle-down"]},"legend":null}
    }},
   {"data":{"values":[{"t":"(b)","x":1115,"y":26.4}]},"mark":{"type":"text","font":"Liberation Serif","fontWeight":"bold","fontSize":11,"color":"black"},
    "encoding":{
     "x":{"field":"x","type":"quantitative","axis":{"orient":"top","labels":false,"title":null,"values":[1095,1100,1105,1110,1115],"minExtent":0,"maxExtent":0}},
     "y":{"field":"y","type":"quantitative","axis":{"orient":"right","labels":false,"title":null,"values":[0,5,10,15,20,25,30],"minExtent":0,"maxExtent":0}},
     "text":{"field":"t"}}}
  ]}
 ]},
{"spacing":15,
 "resolve":{"scale":{"color":"independent"},"legend":{"color":"independent"}},
 "hconcat":[
 {"width":193,"height":142,
  "resolve":{"axis":{"x":"independent","y":"independent"}},
  "layer":[
   {"data":{"name":"c"},"mark":{"type":"line","strokeWidth":1,"clip":true},
    "encoding":{
     "x":{"field":"w","type":"quantitative","scale":{"domain":[1060,1120],"nice":false,"zero":false},"axis":{"values":[1060,1070,1080,1090,1100,1110,1120],"format":"d","title":"Wavelength (nm)"}},
     "y":{"field":"v","type":"quantitative","scale":{"domain":[-80,-25],"nice":false,"zero":false},"axis":{"values":[-80,-70,-60,-50,-40,-30],"labelExpr":"''+datum.value","title":"Intensity (dBm)"}},
     "color":{"field":"s","type":"nominal","scale":{"domain":["1096 nm","1095 nm","1094 nm","1093 nm"],"range":["#ff1a1a","#f020e8","#22f0f8","#1010f0"]},
      "legend":{"orient":"top-left","offset":5,"symbolType":"stroke","symbolSize":100,"symbolStrokeWidth":1.2,"rowPadding":0.8}}
    }},
   {"data":{"values":[{"t":"(c)","x":1114.1,"y":-32}]},"mark":{"type":"text","font":"Liberation Serif","fontWeight":"bold","fontSize":11,"color":"black"},
    "encoding":{
     "x":{"field":"x","type":"quantitative","axis":{"orient":"top","labels":false,"title":null,"values":[1060,1070,1080,1090,1100,1110,1120],"minExtent":0,"maxExtent":0}},
     "y":{"field":"y","type":"quantitative","axis":{"orient":"right","labels":false,"title":null,"values":[-80,-70,-60,-50,-40,-30],"minExtent":0,"maxExtent":0}},
     "text":{"field":"t"}}}
  ]},
 {"width":193,"height":142,
  "resolve":{"axis":{"x":"independent","y":"independent"}},
  "layer":[
   {"data":{"name":"d"},"mark":{"type":"line","strokeWidth":1,"clip":true},
    "encoding":{
     "x":{"field":"w","type":"quantitative","scale":{"domain":[1060,1127],"nice":false,"zero":false},"axis":{"values":[1060,1070,1080,1090,1100,1110,1120],"format":"d","title":"Wavelength (nm)"}},
     "y":{"field":"v","type":"quantitative","scale":{"domain":[-80,-25],"nice":false,"zero":false},"axis":{"values":[-80,-70,-60,-50,-40,-30],"labelExpr":"''+datum.value","title":"Intensity (dBm)"}},
     "color":{"field":"s","type":"nominal","scale":{"domain":["1116 nm","1115 nm","1114 nm","1113 nm"],"range":["#ff1a1a","#f020e8","#22f0f8","#1010f0"]},
      "legend":{"orient":"top-left","offset":5,"symbolType":"stroke","symbolSize":100,"symbolStrokeWidth":1.2,"rowPadding":0.8}}
    }},
   {"data":{"name":"d"},"transform":[{"filter":"datum.s=='1114 nm' && datum.w<=1107.5 && datum.v>-72"}],"mark":{"type":"area","color":"#22f0f8","clip":true},
    "encoding":{"x":{"field":"w","type":"quantitative","axis":null},"y":{"field":"v","type":"quantitative","axis":null},"y2":{"datum":-76}}},
   {"data":{"name":"d"},"transform":[{"filter":"datum.s=='1113 nm' && datum.w<=1107 && datum.v>-77"}],"mark":{"type":"area","color":"#1010f0","clip":true},
    "encoding":{"x":{"field":"w","type":"quantitative","axis":null},"y":{"field":"v","type":"quantitative","axis":null},"y2":{"datum":-80}}},
   {"data":{"values":[{"t":"(d)","x":1120,"y":-32}]},"mark":{"type":"text","font":"Liberation Serif","fontWeight":"bold","fontSize":11,"color":"black"},
    "encoding":{
     "x":{"field":"x","type":"quantitative","axis":{"orient":"top","labels":false,"title":null,"values":[1060,1070,1080,1090,1100,1110,1120],"minExtent":0,"maxExtent":0}},
     "y":{"field":"y","type":"quantitative","axis":{"orient":"right","labels":false,"title":null,"values":[-80,-70,-60,-50,-40,-30],"minExtent":0,"maxExtent":0}},
     "text":{"field":"t"}}}
  ]}
 ]}
]
}
